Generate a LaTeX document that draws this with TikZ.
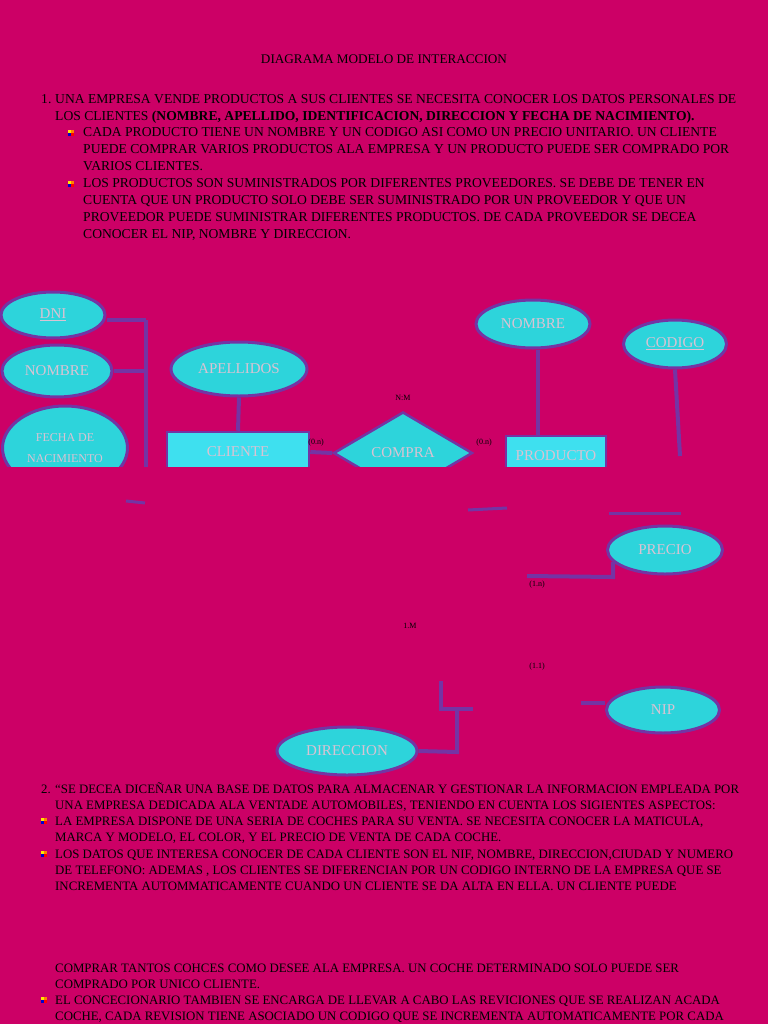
\documentclass[tikz,border=0pt]{standalone}
\usepackage{fontspec}
\setmainfont{Liberation Serif}
\usetikzlibrary{shapes.geometric}

\definecolor{fondo}{HTML}{CC0066}
\definecolor{celeste}{HTML}{2DD4DB}
\definecolor{celesteclaro}{HTML}{3EE0EF}
\definecolor{morado}{HTML}{7434A4}
\definecolor{letra}{HTML}{D9C3D3}

\tikzset{
	renglon/.style={anchor=base west, inner sep=0pt, font=\fontsize{13.6}{15}\selectfont},
	renglondos/.style={renglon, font=\fontsize{12.85}{15}\selectfont},
	atributo/.style={ellipse, draw=morado, fill=celeste, line width=3pt, text=letra,
		font=\fontsize{15}{17}\selectfont, inner sep=0pt},
	entidad/.style={rectangle, draw=morado, fill=celesteclaro, line width=2.5pt, text=letra,
		font=\fontsize{15}{17}\selectfont, inner sep=0pt},
	relacion/.style={diamond, draw=morado, fill=celeste, line width=2.5pt, text=letra,
		font=\fontsize{15}{17}\selectfont, inner sep=0pt},
	union/.style={draw=morado, line width=4pt},
	card/.style={inner sep=0pt, font=\fontsize{8}{9}\selectfont},
	icono/.pic={
		\fill[white] (-3,-3) rectangle (3,3);
		\fill[yellow!90!orange] (-3,-3) rectangle (0,0);
		\fill[blue!80!black] (-3,0) rectangle (0,3);
		\fill[red] (0,0) rectangle (3,3);
		\fill[orange] (0,-3) rectangle (3,0);
	}
}

\begin{document}
\begin{tikzpicture}[x=1pt,y=-1pt]
	\fill[fondo] (0,0) rectangle (768,1024);
	\useasboundingbox (0,0) rectangle (768,1024);

	% texto de la primera parte
	\node[anchor=base, inner sep=0pt, font=\fontsize{13.2}{15}\selectfont] (titulo) at (384,64) {DIAGRAMA MODELO DE INTERACCION};
	\node[renglon] (n1) at (41,104) {1.};
	\node[renglon] (l1) at (55,104) {UNA EMPRESA VENDE PRODUCTOS A SUS CLIENTES SE NECESITA CONOCER LOS DATOS PERSONALES DE};
	\node[renglon] (l2) at (55,121) {LOS CLIENTES \textbf{(NOMBRE, APELLIDO, IDENTIFICACION, DIRECCION Y FECHA DE NACIMIENTO).}};
	\node[renglon] (l3) at (83,137) {CADA PRODUCTO TIENE UN NOMBRE Y UN CODIGO ASI COMO UN PRECIO UNITARIO. UN CLIENTE};
	\node[renglon] (l4) at (83,154) {PUEDE COMPRAR VARIOS PRODUCTOS ALA EMPRESA Y UN PRODUCTO PUEDE SER COMPRADO POR};
	\node[renglon] (l5) at (83,171) {VARIOS CLIENTES.};
	\node[renglon] (l6) at (83,188) {LOS PRODUCTOS SON SUMINISTRADOS POR DIFERENTES PROVEEDORES. SE DEBE DE TENER EN};
	\node[renglon] (l7) at (83,205) {CUENTA QUE UN PRODUCTO SOLO DEBE SER SUMINISTRADO POR UN PROVEEDOR Y QUE UN};
	\node[renglon] (l8) at (83,222) {PROVEEDOR PUEDE SUMINISTRAR DIFERENTES PRODUCTOS. DE CADA PROVEEDOR SE DECEA};
	\node[renglon] (l9) at (83,239) {CONOCER EL NIP, NOMBRE Y DIRECCION.};
	\foreach \y in {133,184}
		\pic at (71,\y) {icono};

	% diagrama, la hoja se corta en y=466
	\begin{scope}
		\clip (0,0) rectangle (768,466);
		\node[atributo, minimum width=125pt, minimum height=84pt, align=center, font=\fontsize{12}{21}\selectfont] (fecha) at (65,448) {FECHA DE\\NACIMIENTO};
		\coordinate (ColTop) at (146,320);
		\coordinate (ColBot) at (146,480);
		\draw[union] (ColTop) -- (ColBot);
		\node[entidad, minimum width=142pt, minimum height=40pt] (cliente) at (238,452) {CLIENTE};
		\node[relacion, minimum width=139pt, minimum height=82pt] (compra) at (403,453) {COMPRA};
		\node[entidad, minimum width=100pt, minimum height=40pt] (producto) at (556,456) {PRODUCTO};
		\draw[union] (cliente.east) -- (compra.west);
	\end{scope}

	\node[atributo, minimum width=104pt, minimum height=46pt] (dni) at (53,315) {\underline{DNI}};
	\node[atributo, minimum width=110pt, minimum height=52pt] (nombre) at (57,371) {NOMBRE};
	\node[atributo, minimum width=136pt, minimum height=54pt] (apellidos) at (239,369) {APELLIDOS};
	\node[atributo, minimum width=114pt, minimum height=48pt] (nombreprod) at (533,324) {NOMBRE};
	\node[atributo, minimum width=103pt, minimum height=48pt] (codigo) at (675,344) {\underline{CODIGO}};
	\draw[union] (dni.east |- 0,320) -- (ColTop);
	\draw[union] (nombre.east) -- (nombre.east -| ColTop);
	\draw[union] (apellidos.south) -- (cliente.north);
	\draw[union] (nombreprod.south -| 538,0) -- (538,437);
	\coordinate (CodFin) at (680,456);
	\draw[union] (codigo.south) -- (CodFin);

	\node[card] (cn1) at (316,443) {(0.n)};
	\node[card] (cn2) at (484,443) {(0.n)};
	\node[card] (nm) at (403,398) {N:M};

	% restos de la segunda hoja
	\draw[union, line width=3pt] (126,501) -- (145,503);
	\draw[union, line width=3pt] (468,510) -- (507,508);
	\draw[union, line width=3pt] (609,513) -- (681,513);
	\node[atributo, minimum width=115pt, minimum height=48pt] (precio) at (665,550) {PRECIO};
	\coordinate (PrecioFin) at (527,576);
	\draw[union] (PrecioFin) -- (613,577) -- (613,562);
	\node[card] (c1n) at (537,585) {(1.n)};
	\node[card] (m1) at (410,626) {1.M};
	\node[card] (c11) at (537,667) {(1.1)};
	\node[atributo, minimum width=113pt, minimum height=46pt] (nip) at (663,710) {NIP};
	\coordinate (NipFin) at (581,703);
	\draw[union] (NipFin) -- (nip.west |- NipFin);
	\node[atributo, minimum width=140pt, minimum height=48pt] (direccion) at (347,751) {DIRECCION};
	\coordinate (DirTop) at (441,681);
	\draw[union] (DirTop) -- (441,709) -- (473,709);
	\draw[union] (457,709) -- (457,752) -- (direccion.east);

	% texto de la segunda parte
	\node[renglondos] (n2) at (41,793) {2.};
	\node[renglondos] (m1l) at (55,793) {“SE DECEA DICEÑAR UNA BASE DE DATOS PARA ALMACENAR Y GESTIONAR LA INFORMACION EMPLEADA POR};
	\node[renglondos] (m2l) at (55,809) {UNA EMPRESA DEDICADA ALA VENTADE AUTOMOBILES, TENIENDO EN CUENTA LOS SIGIENTES ASPECTOS:};
	\node[renglondos] (m3l) at (55,825) {LA EMPRESA DISPONE DE UNA SERIA DE COCHES PARA SU VENTA. SE NECESITA CONOCER LA MATICULA,};
	\node[renglondos] (m4l) at (55,841) {MARCA Y MODELO, EL COLOR, Y EL PRECIO DE VENTA DE CADA COCHE.};
	\node[renglondos] (m5l) at (55,858) {LOS DATOS QUE INTERESA CONOCER DE CADA CLIENTE SON EL NIF, NOMBRE, DIRECCION,CIUDAD Y NUMERO};
	\node[renglondos] (m6l) at (55,874) {DE TELEFONO: ADEMAS , LOS CLIENTES SE DIFERENCIAN POR UN CODIGO INTERNO DE LA EMPRESA QUE SE};
	\node[renglondos] (m7l) at (55,890) {INCREMENTA AUTOMMATICAMENTE CUANDO UN CLIENTE SE DA ALTA EN ELLA. UN CLIENTE PUEDE};
	\node[renglondos] (m8l) at (55,972) {COMPRAR TANTOS COHCES COMO DESEE ALA EMPRESA. UN COCHE DETERMINADO SOLO PUEDE SER};
	\node[renglondos] (m9l) at (55,988) {COMPRADO POR UNICO CLIENTE.};
	\node[renglondos] (m10l) at (55,1004) {EL CONCECIONARIO TAMBIEN SE ENCARGA DE LLEVAR A CABO LAS REVICIONES QUE SE REALIZAN ACADA};
	\node[renglondos] (m11l) at (55,1020) {COCHE, CADA REVISION TIENE ASOCIADO UN CODIGO QUE SE INCREMENTA AUTOMATICAMENTE POR CADA};
	\foreach \y in {821,854,1000}
		\pic at (44,\y) {icono};
\end{tikzpicture}
\end{document}
